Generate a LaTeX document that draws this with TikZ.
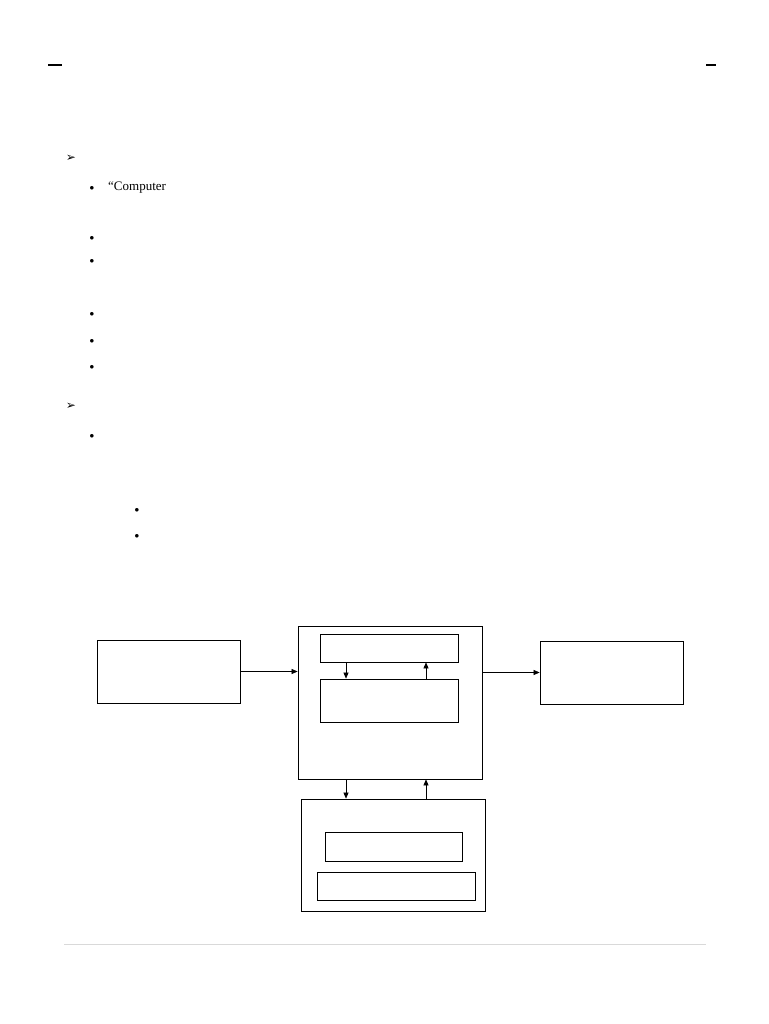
\documentclass[tikz,border=0pt]{standalone}
\usepackage{fontspec}
\setmainfont{Liberation Serif}
\newfontfamily\symfont{DejaVu Sans}
\usetikzlibrary{arrows.meta}
\begin{document}
\begin{tikzpicture}[x=1pt,y=-1pt,
  box/.style={draw,line width=0.8pt},
  arr/.style={-{Triangle[length=6pt,width=5pt]},line width=0.6pt},
  bul/.style={inner sep=0pt,font=\fontsize{9}{9}\selectfont}]
\useasboundingbox (0,0) rectangle (768,1024);
\draw[line width=1.3pt] (48,65) -- (62,65);
\draw[line width=1.3pt] (706,65) -- (716,65);
\node[inner sep=0pt,font=\symfont\fontsize{12}{12}\selectfont] (a1) at (71,158) {➢};
\node[inner sep=0pt,font=\symfont\fontsize{12}{12}\selectfont] (a2) at (71,406) {➢};
\foreach \n/\x/\y in {b1/92/188,b2/92/238,b3/92/261,b4/92/314,b5/92/341,b6/92/367,b7/92/436,b8/137/510,b9/137/536}
  \node[bul] (\n) at (\x,\y) {$\bullet$};
\node[anchor=west,inner sep=0pt,font=\fontsize{13}{13}\selectfont] (t1) at (108,188) {“Computer};
% diagram
\node[box,minimum width=143pt,minimum height=63pt] (in) at (168.5,671.5) {};
\node[box,minimum width=184pt,minimum height=153pt] (cpu) at (390,702.5) {};
\node[box,minimum width=138pt,minimum height=28pt] (cu) at (389,648) {};
\node[box,minimum width=138pt,minimum height=43pt] (alu) at (389,700.5) {};
\node[box,minimum width=143pt,minimum height=63pt] (out) at (611.5,672.5) {};
\node[box,minimum width=184pt,minimum height=112pt] (mem) at (393,855) {};
\node[box,minimum width=137pt,minimum height=29pt] (m1) at (393.5,846.5) {};
\node[box,minimum width=158pt,minimum height=28pt] (m2) at (396,886) {};
\draw[arr] (in.east) -- (cpu.west |- in.east);
\draw[arr] (cpu.east |- out.west) -- (out.west);
\draw[arr] (cu.south -| 346,0) -- (alu.north -| 346,0);
\draw[arr] (alu.north -| 426,0) -- (cu.south -| 426,0);
\draw[arr] (cpu.south -| 346,0) -- (mem.north -| 346,0);
\draw[arr] (mem.north -| 426,0) -- (cpu.south -| 426,0);
\draw[black!15,line width=0.6pt] (64,944) -- (706,944);
\end{tikzpicture}
\end{document}
